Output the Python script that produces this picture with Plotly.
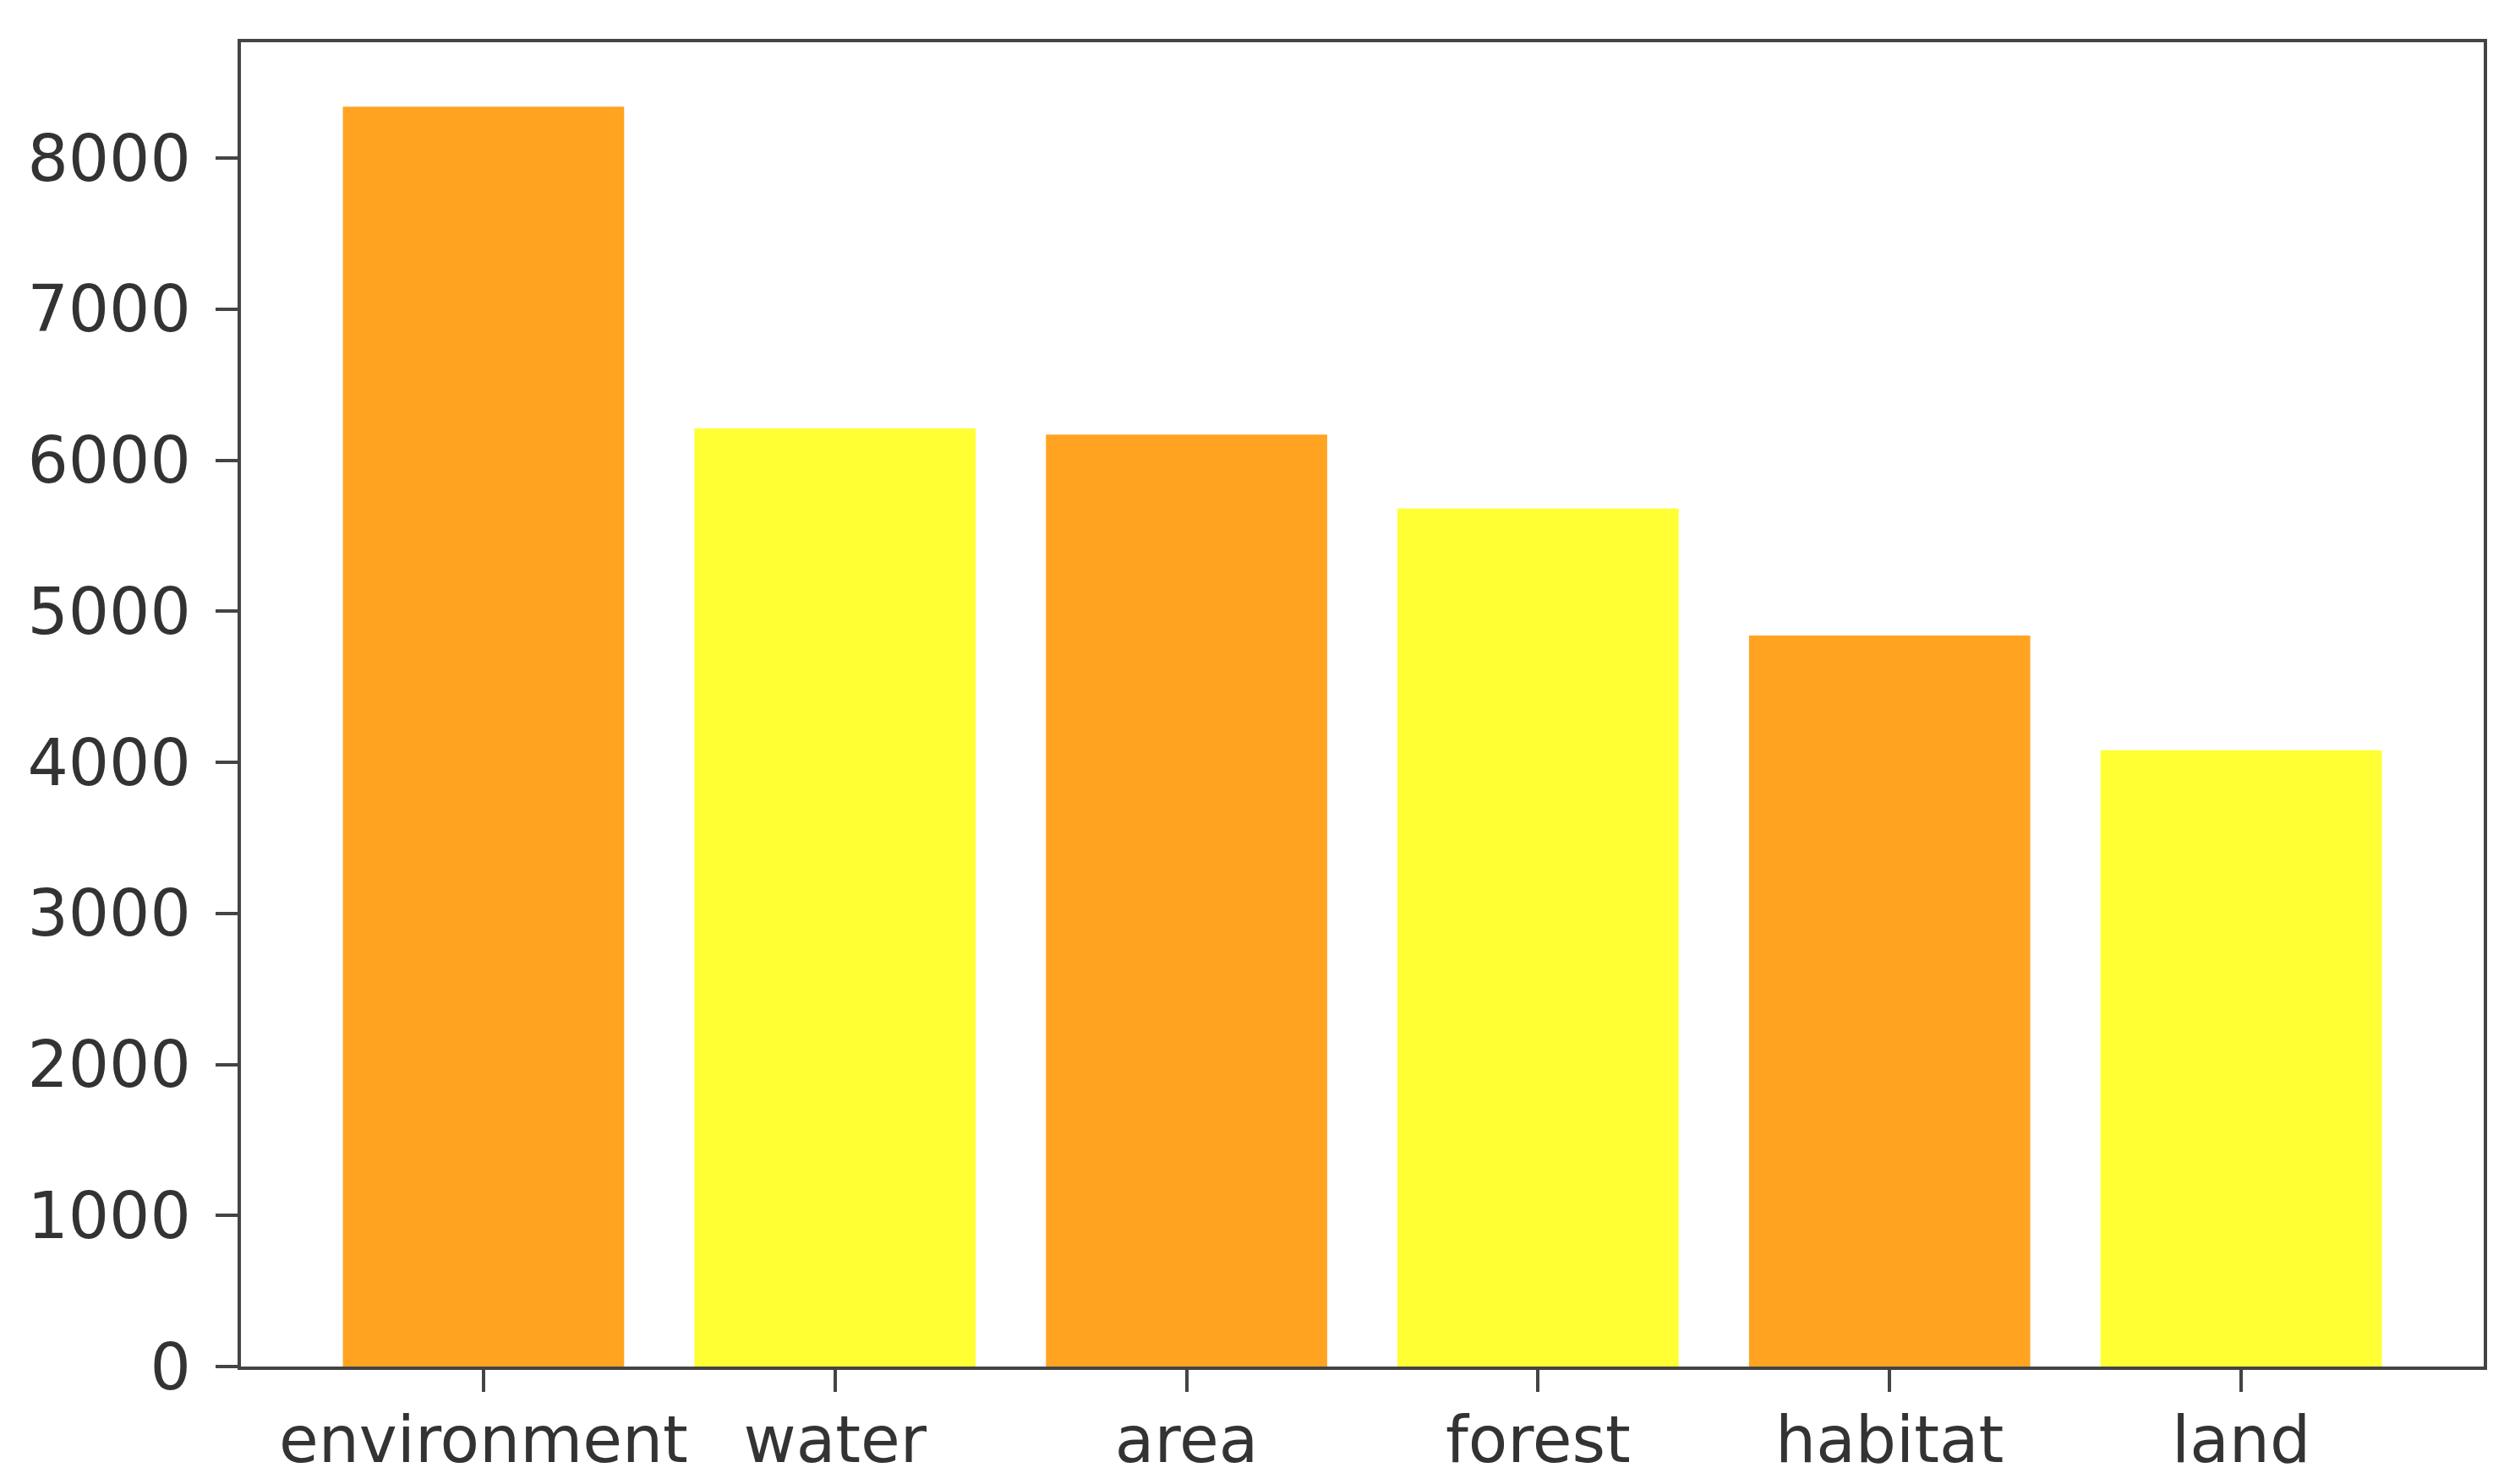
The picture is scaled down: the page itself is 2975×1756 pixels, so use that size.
import plotly.graph_objects as go

# значения
words = ['environment', 'water', 'area', 'forest', 'habitat', 'land']
counts = [8340, 6210, 6170, 5680, 4840, 4080]
bar_colors = ['#FFA321', '#FFFF33', '#FFA321', '#FFFF33', '#FFA321', '#FFFF33']
y_ticks = [0, 1000, 2000, 3000, 4000, 5000, 6000, 7000, 8000]

fig = go.Figure(go.Bar(
    x=list(range(len(words))), y=counts,
    marker=dict(color=bar_colors, line=dict(width=0)),
    width=0.8,
))

axis_line = dict(showline=True, linecolor='#444', linewidth=4, mirror=True,
                 ticks='outside', tickcolor='#444', tickwidth=4, ticklen=26,
                 showgrid=False, zeroline=False)

fig.update_layout(
    width=2975, height=1756,
    margin={'l': 277, 'r': 45, 't': 42, 'b': 147},
    plot_bgcolor='white', paper_bgcolor='white',
    font=dict(family='DejaVu Sans', size=76, color='#333'),
    showlegend=False,
    xaxis=dict(axis_line, tickmode='array', tickvals=list(range(len(words))),
               ticktext=words, range=[-0.69, 5.69], ticklabelstandoff=-8),
    yaxis=dict(axis_line, tickmode='array', tickvals=y_ticks,
               range=[0, 8767], ticklabelstandoff=14),
)
fig.write_html("out.html")
